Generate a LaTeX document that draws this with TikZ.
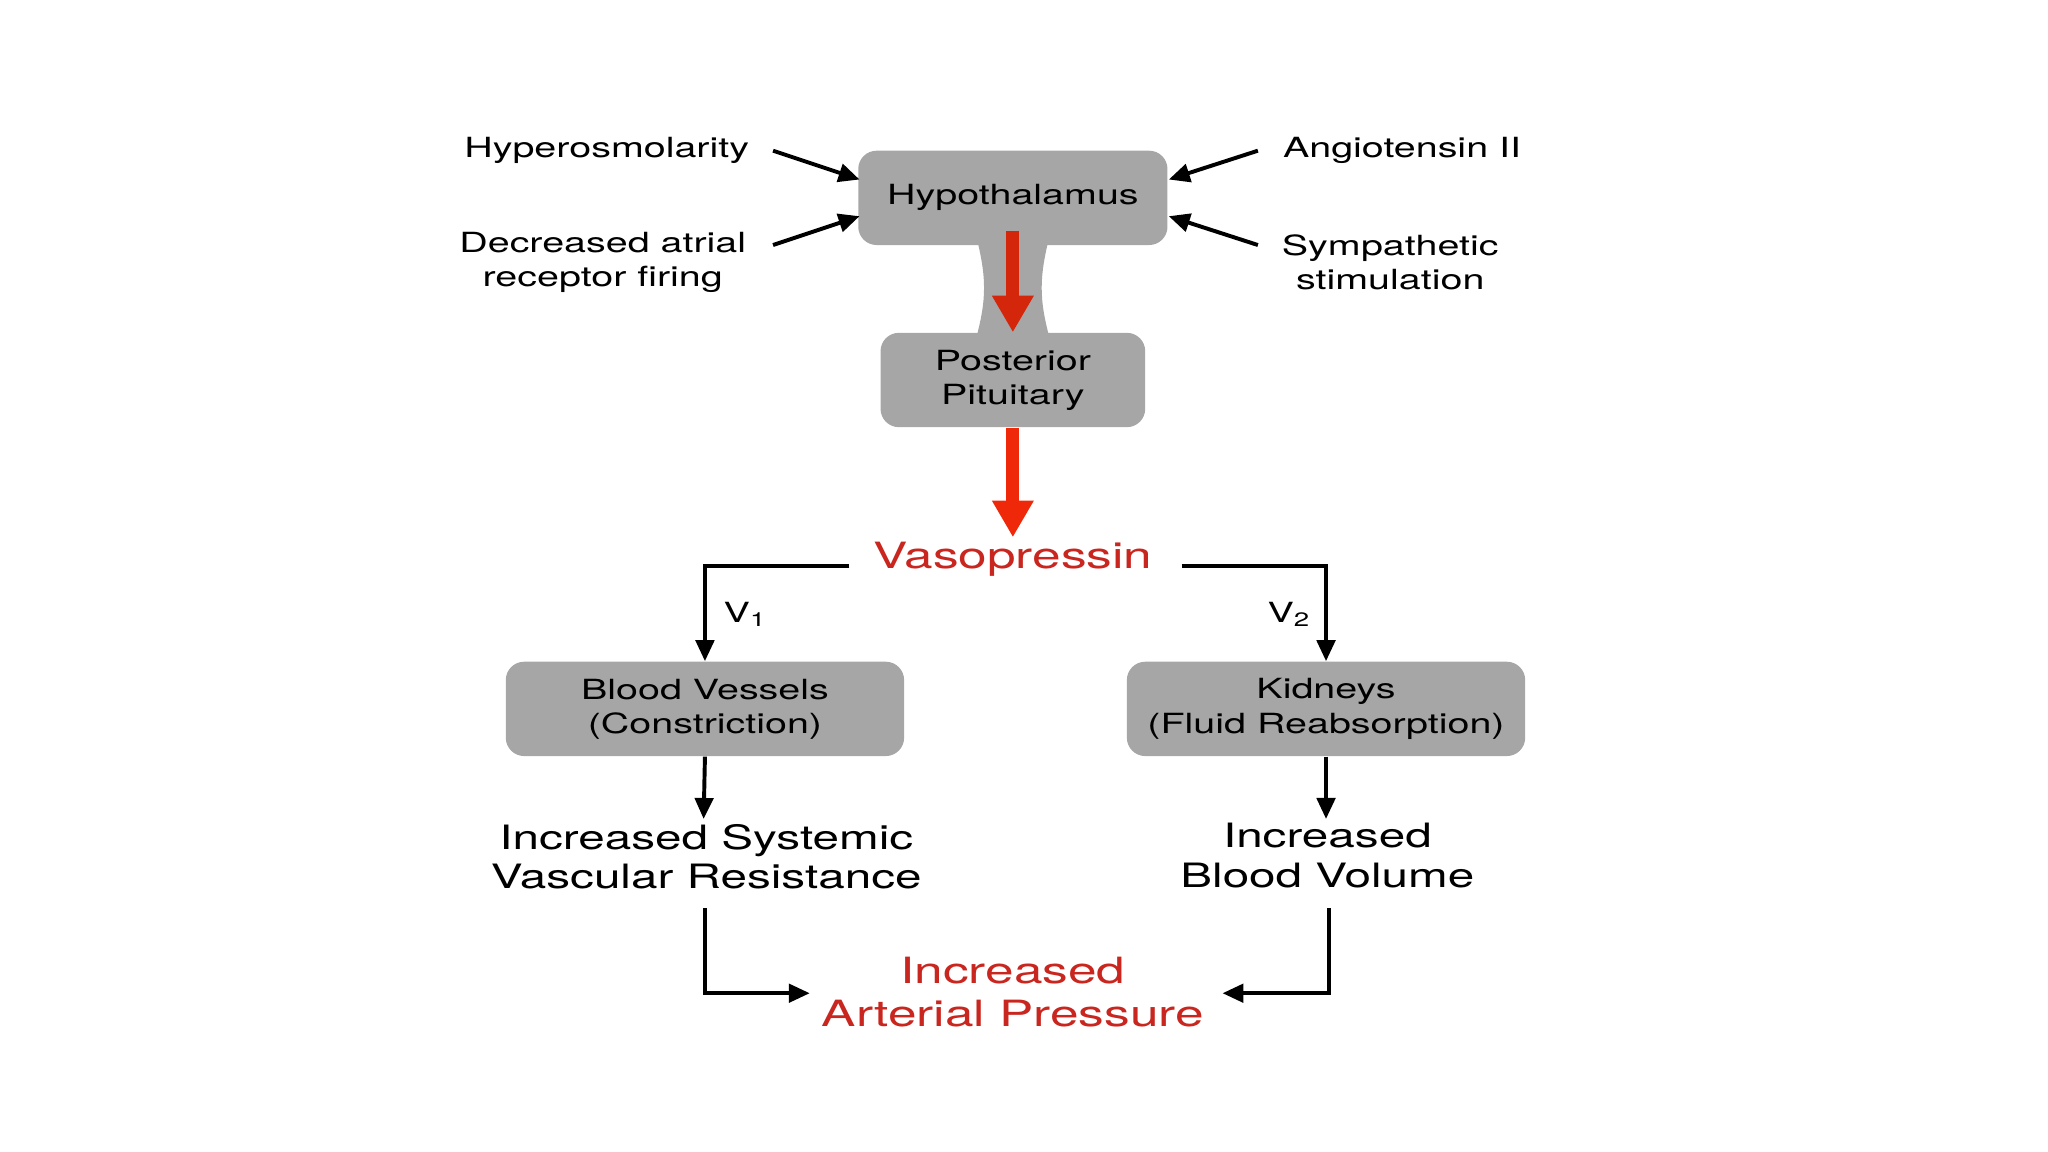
\documentclass[tikz,border=0pt]{standalone}
\usepackage{fontspec}
\setmainfont{TeX Gyre Heros}[FakeStretch=1.42]
\usetikzlibrary{arrows.meta}
\definecolor{boxg}{RGB}{166,166,166}
\definecolor{txtred}{RGB}{200,38,30}
\definecolor{arrA}{RGB}{212,38,10}
\definecolor{arrB}{RGB}{240,40,10}
\begin{document}
\begin{tikzpicture}[x=0.5pt,y=-0.5pt,
  box/.style={fill=boxg,rounded corners=7pt,inner sep=0pt,align=center,font=\fontsize{10.6}{13}\selectfont},
  small/.style={align=center,inner sep=0pt,font=\fontsize{10.6}{13}\selectfont},
  big/.style={align=center,inner sep=0pt,font=\fontsize{12.8}{15}\selectfont},
  red/.style={align=center,inner sep=0pt,text=txtred,font=\fontsize{13.8}{16.5}\selectfont},
  blk/.style={line width=1.5pt,-{Triangle[length=8pt,width=7pt]}},
  redarr/.style={line width=5pt,-{Triangle[length=14pt,width=15pt]}}]
\useasboundingbox (0,0) rectangle (1563,879);
% neck
\fill[boxg] (745,180) .. controls (753,212) and (753,228) .. (745,258) -- (801,258) .. controls (793,228) and (793,212) .. (801,180) -- cycle;
\node[box,minimum width=118pt,minimum height=36pt] (hyp) at (773,151) {Hypothalamus};
\node[box,minimum width=101pt,minimum height=36pt] (pit) at (773,290) {Posterior\\Pituitary};
\node[red] (vaso) at (773,427) {Vasopressin};
\node[box,minimum width=152pt,minimum height=36pt] (bv) at (538,541) {Blood Vessels\\(Constriction)};
\node[box,minimum width=152pt,minimum height=36pt] (kid) at (1012,541) {Kidneys\\(Fluid Reabsorption)};
\node[big] (svr) at (539,654) {Increased Systemic\\Vascular Resistance};
\node[big] (vol) at (1013,653) {Increased\\Blood Volume};
\node[red] (map) at (773,757) {Increased\\Arterial Pressure};
\node[small] (hyper) at (463,115) {Hyperosmolarity};
\node[small] (atrial) at (460,200) {Decreased atrial\\receptor firing};
\node[small] (ang) at (1070,115) {Angiotensin II};
\node[small] (sym) at (1061,200) {Sympathetic\\stimulation};
\node[small] at (567,469) {V$_{\mathrm{1}}$};
\node[small] at (982,469) {V$_{\mathrm{2}}$};
\coordinate (h1) at (590,115); \coordinate (h2) at (590,187);
\coordinate (a1) at (960,115); \coordinate (a2) at (960,187);
\draw[blk] (h1) -- (656,137);
\draw[blk] (h2) -- (656,165);
\draw[blk] (a1) -- (892,137);
\draw[blk] (a2) -- (892,165);
\draw[redarr,draw=arrA,fill=arrA] (773,176) -- (pit.north);
\draw[redarr,draw=arrB,fill=arrB] (pit.south) -- (773,410);
\draw[blk] (vaso.west)++(-18,5) -| (bv.north);
\draw[blk] (vaso.east)++(22,5) -| (kid.north);
\draw[blk] (bv.south) -- (537,625);
\draw[blk] (kid.south) -- (1012,625);
\draw[blk] (538,693) |- (618,758);
\draw[blk] (1014,693) |- (933,758);
\end{tikzpicture}
\end{document}
